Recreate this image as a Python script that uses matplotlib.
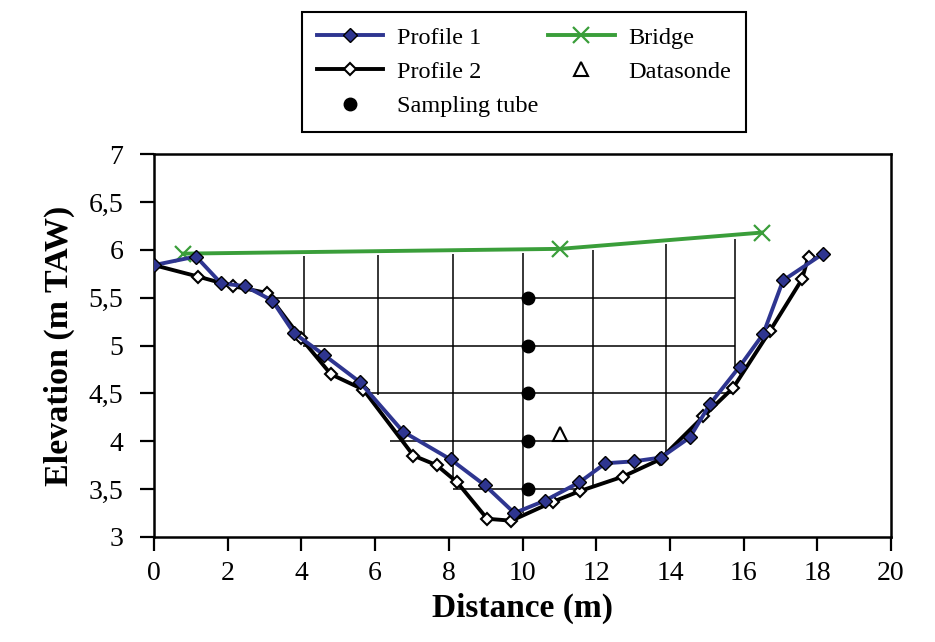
import numpy as np
import matplotlib.pyplot as plt
from matplotlib.ticker import FuncFormatter

# cross-section profiles (distance in m, elevation in m TAW)
profile1_x = [0.0, 1.14, 1.82, 2.47, 3.21, 3.8, 4.62, 5.58, 6.76, 8.05, 8.98,
              9.78, 10.61, 11.54, 12.25, 13.02, 13.76, 14.54, 15.09, 15.89,
              16.53, 17.07, 18.16]
profile1_y = [5.84, 5.93, 5.65, 5.62, 5.47, 5.13, 4.90, 4.62, 4.10, 3.81,
              3.54, 3.25, 3.38, 3.57, 3.77, 3.79, 3.83, 4.04, 4.39, 4.78,
              5.12, 5.68, 5.96]

profile2_x = [0.0, 1.2, 2.14, 3.06, 3.98, 4.8, 5.68, 7.04, 7.67, 8.23, 9.04,
              9.7, 10.84, 11.56, 12.72, 13.73, 14.91, 15.72, 16.71, 17.58,
              17.76]
profile2_y = [5.84, 5.72, 5.62, 5.55, 5.08, 4.70, 4.54, 3.85, 3.75, 3.57,
              3.19, 3.17, 3.37, 3.48, 3.63, 3.81, 4.26, 4.56, 5.15, 5.69,
              5.93]

bridge_x = [0.79, 11.03, 16.49]
bridge_y = [5.96, 6.01, 6.18]

tube_x = [10.15, 10.15, 10.15, 10.15, 10.15]
tube_y = [5.5, 5.0, 4.5, 4.0, 3.5]

sonde_x = [11.03]
sonde_y = [4.08]

# measurement grid drawn inside the channel
grid_x = [4.07, 6.08, 8.11, 10.01, 11.91, 13.89, 15.77]
grid_x_bottom = [5.06, 4.48, 3.57, 3.25, 3.54, 3.84, 4.78]
grid_y = [5.5, 5.0, 4.5, 4.0, 3.5]
grid_y_left = [3.06, 4.05, 5.9, 6.4, 8.11]
grid_y_right = [15.77, 15.77, 15.72, 13.89, 11.5]

plt.rcParams['font.family'] = ['Liberation Serif', 'DejaVu Serif']

fig = plt.figure(figsize=(9.35, 6.42), dpi=100)
ax = fig.add_axes([0.1647, 0.1636, 0.7883, 0.5964])

grid_top = np.interp(grid_x, bridge_x, bridge_y) - 0.04
ax.vlines(grid_x, grid_x_bottom, grid_top, color='black', lw=1.1, zorder=1)
ax.hlines(grid_y, grid_y_left, grid_y_right, color='black', lw=1.1, zorder=1)

ax.plot(bridge_x, bridge_y, color='#3a9e3a', lw=2.8, marker='x', ms=11,
        mew=1.6, label='Bridge', zorder=2)
ax.plot(profile2_x, profile2_y, color='black', lw=2.8, marker='D', ms=6.5,
        mfc='white', mec='black', mew=1.5, label='Profile 2', zorder=3)
ax.plot(profile1_x, profile1_y, color='#2e3590', lw=2.8, marker='D', ms=7,
        mfc='#2e3590', mec='black', mew=1.0, label='Profile 1', zorder=4)
ax.plot(tube_x, tube_y, ls='none', marker='o', ms=9, color='black',
        label='Sampling tube', zorder=5)
ax.plot(sonde_x, sonde_y, ls='none', marker='^', ms=10, mfc='white',
        mec='black', mew=1.5, label='Datasonde', zorder=5)

ax.set_xlim(0, 20)
ax.set_ylim(3, 7)
ax.set_xticks(np.arange(0, 21, 2))
ax.set_yticks(np.arange(3, 7.01, 0.5))
ax.yaxis.set_major_formatter(
    FuncFormatter(lambda v, p: f'{v:g}'.replace('.', ',')))
ax.tick_params(direction='out', length=10, width=1.6, labelsize=20)
ax.tick_params(axis='y', pad=12)
ax.tick_params(axis='x', pad=7)
for s in ax.spines.values():
    s.set_linewidth(1.8)

ax.set_xlabel('Distance (m)', fontsize=24, fontweight='bold', labelpad=5)
ax.set_ylabel('Elevation (m TAW)', fontsize=24.5, fontweight='bold',
              labelpad=10)

handles, labels = ax.get_legend_handles_labels()
order = ['Profile 1', 'Profile 2', 'Sampling tube', 'Bridge', 'Datasonde']
h = [handles[labels.index(n)] for n in order]
fig.legend(h, order, ncol=2, loc='upper left', bbox_to_anchor=(0.323, 0.981),
           borderaxespad=0, fontsize=17.5, frameon=True, fancybox=False,
           edgecolor='black', framealpha=1, borderpad=0.6, handlelength=2.75,
           handletextpad=0.55, columnspacing=0.4, labelspacing=0.5)
fig.legends[0].get_frame().set_linewidth(1.5)

plt.savefig('out.png', dpi=100)
